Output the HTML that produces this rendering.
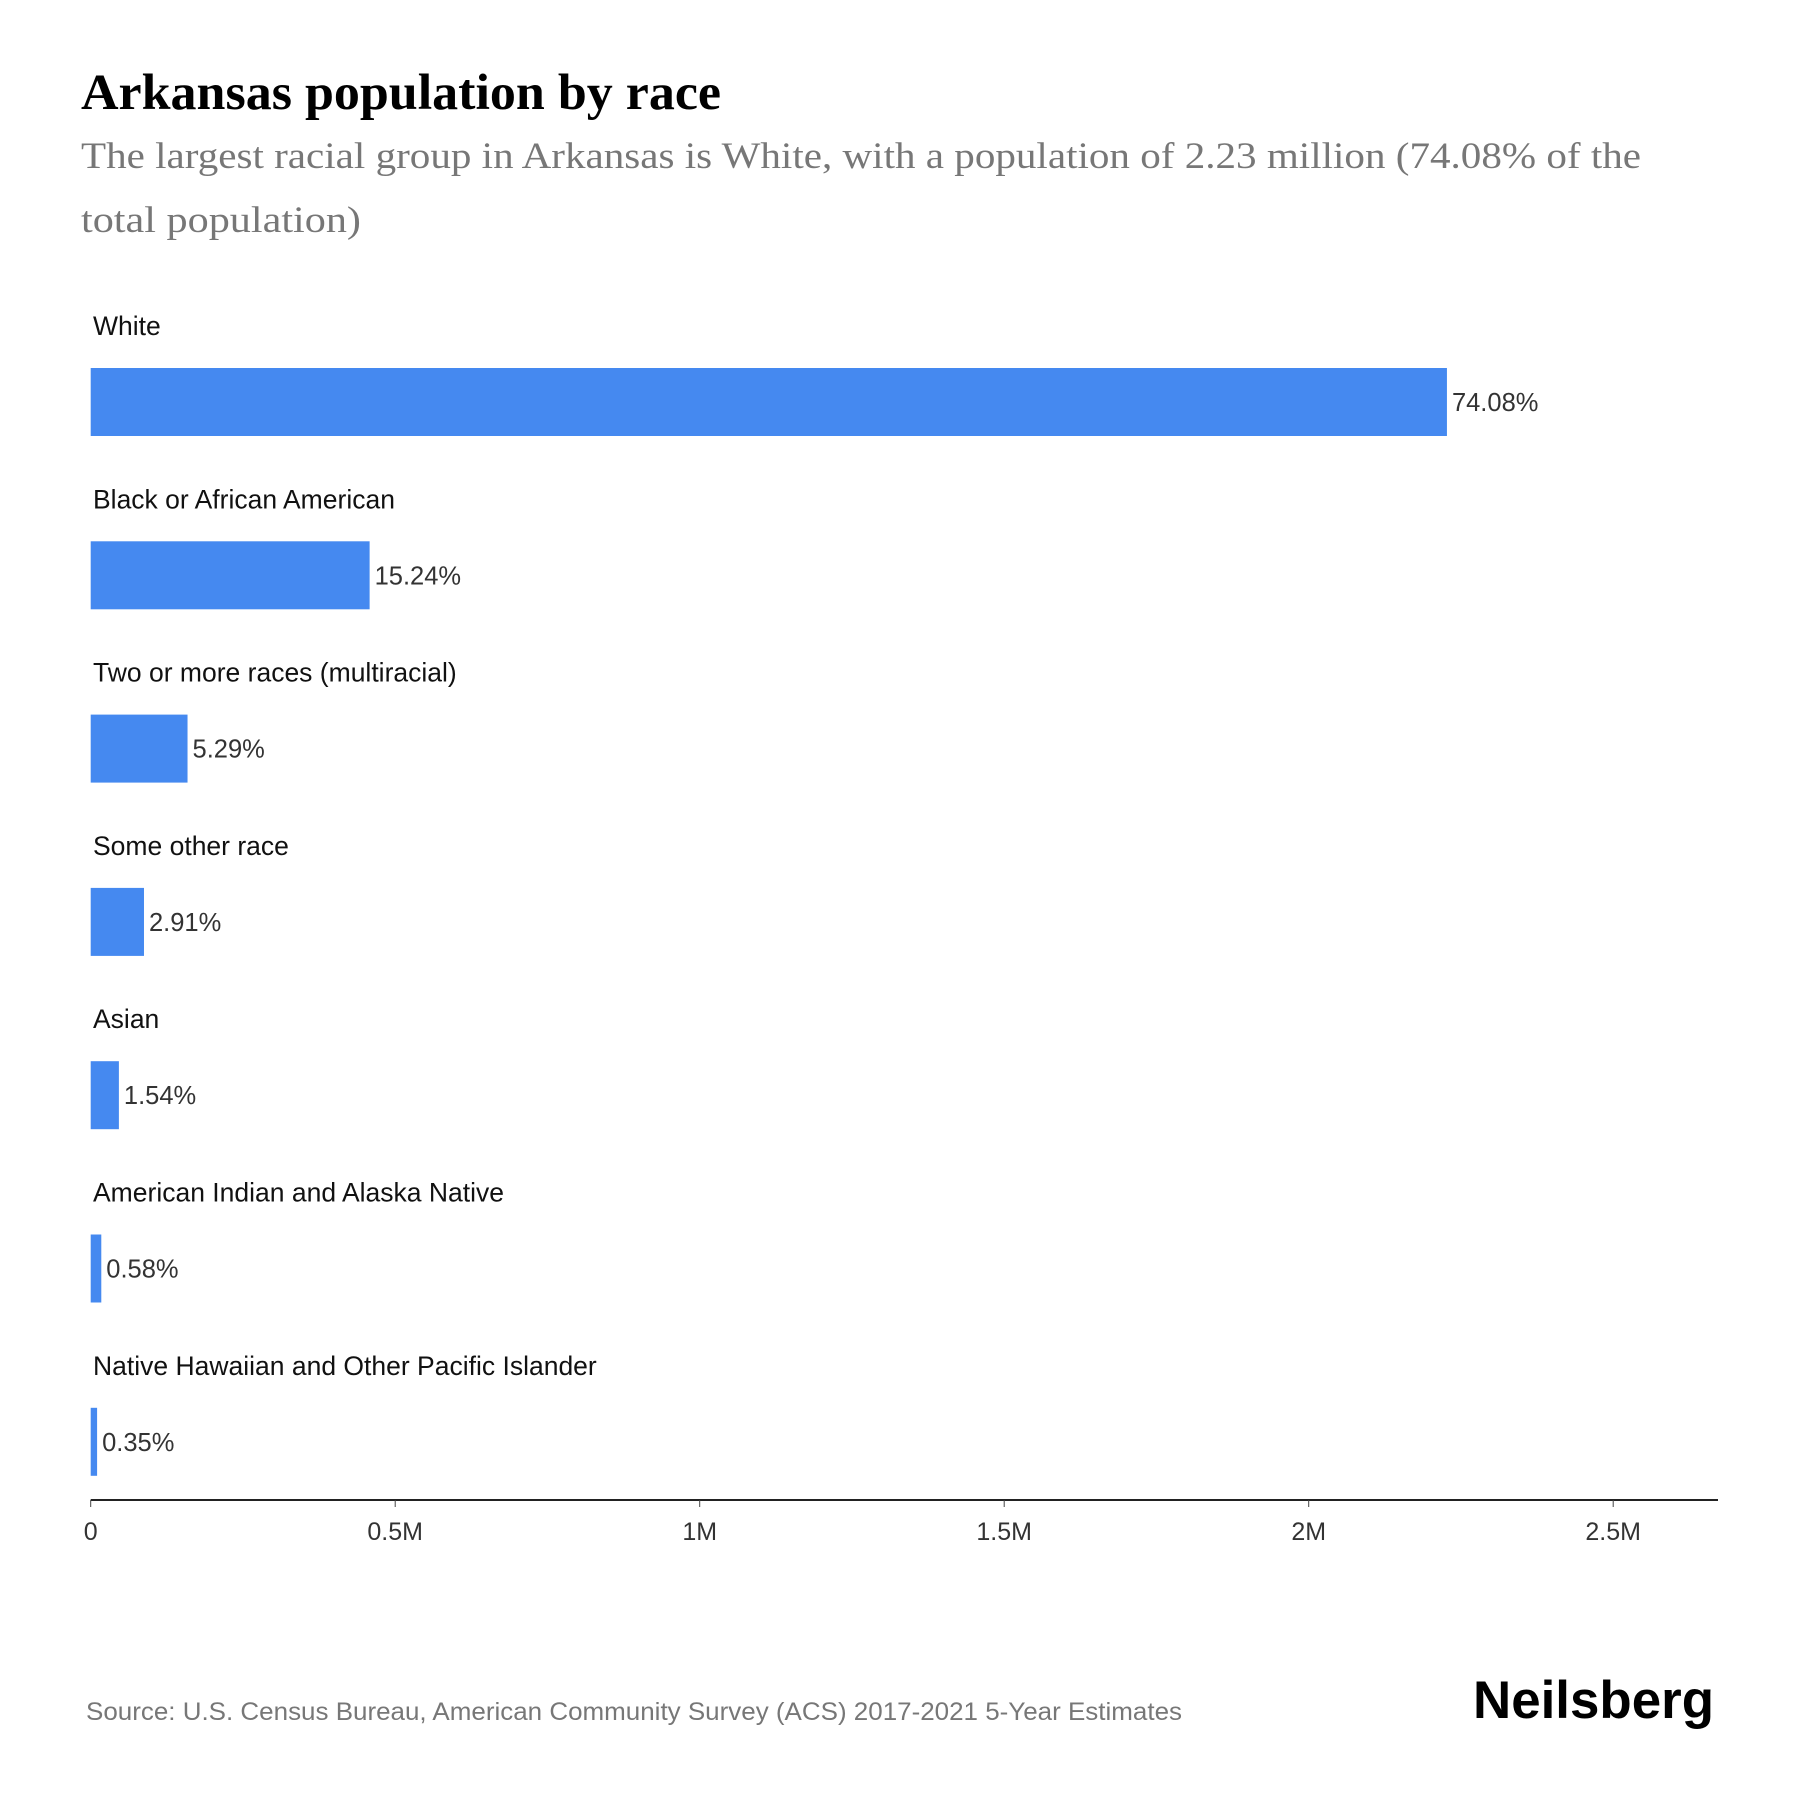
<!DOCTYPE html>
<html><head><meta charset="utf-8"><style>
html,body{margin:0;padding:0;background:#fff;}
svg{display:block;}
</style></head><body>
<svg id="chart" width="1800" height="1800" xmlns="http://www.w3.org/2000/svg">
<text x="81" y="109" textLength="640" lengthAdjust="spacingAndGlyphs" font-family="Liberation Serif, serif" font-weight="bold" font-size="51" fill="#000">Arkansas population by race</text>
<text x="81" y="168" textLength="1560" lengthAdjust="spacingAndGlyphs" font-family="Liberation Serif, serif" font-size="37" fill="#777">The largest racial group in Arkansas is White, with a population of 2.23 million (74.08% of the</text>
<text x="81" y="232" textLength="280" lengthAdjust="spacingAndGlyphs" font-family="Liberation Serif, serif" font-size="37" fill="#777">total population)</text>
<g id="bars"></g>
<g id="axis"></g>
<text x="86" y="1720" textLength="1096" lengthAdjust="spacingAndGlyphs" font-family="Liberation Sans, sans-serif" font-size="25" fill="#777">Source: U.S. Census Bureau, American Community Survey (ACS) 2017-2021 5-Year Estimates</text>
<text x="1473" y="1718" textLength="241" lengthAdjust="spacingAndGlyphs" font-family="Liberation Sans, sans-serif" font-weight="bold" font-size="53" fill="#000">Neilsberg</text>
</svg>
<script>
const categories = ["White","Black or African American","Two or more races (multiracial)","Some other race","Asian","American Indian and Alaska Native","Native Hawaiian and Other Pacific Islander"];
const values = [2.227, 0.458, 0.159, 0.0875, 0.0463, 0.0174, 0.0105];
const pctLabels = ["74.08%","15.24%","5.29%","2.91%","1.54%","0.58%","0.35%"];
const ticks = [0, 0.5, 1, 1.5, 2, 2.5];
const tickLabels = ["0","0.5M","1M","1.5M","2M","2.5M"];

const NS = "http://www.w3.org/2000/svg";
const x0 = 90.7, pxPerUnit = 609;
const xs = v => x0 + v * pxPerUnit;
const rowTop = i => 368 + i * 173.3;
const barH = 68;
const bars = document.getElementById('bars');
const axis = document.getElementById('axis');
function mk(tag, attrs, parent, text){
  const el = document.createElementNS(NS, tag);
  for (const k in attrs) el.setAttribute(k, attrs[k]);
  if (text !== undefined) el.textContent = text;
  parent.appendChild(el);
  return el;
}
categories.forEach((c, i) => {
  const y = rowTop(i);
  const lab = mk('text', {x: 93, y: y - 33, 'font-family': 'Liberation Sans, sans-serif', 'font-size': 26.5, fill: '#111'}, bars, c);
  
  
  const r = mk('rect', {x: xs(0), y: y, width: Math.max(1, xs(values[i]) - xs(0)), height: barH, fill: '#4589f0'}, bars);
  
  
  const v = mk('text', {x: xs(values[i]) + 5, y: y + barH/2 + 9, 'font-family': 'Liberation Sans, sans-serif', 'font-size': 25.5, fill: '#333'}, bars, pctLabels[i]);
  
  
});
const al = mk('line', {x1: x0, x2: 1718, y1: 1500, y2: 1500, stroke: '#222', 'stroke-width': 2}, axis);


ticks.forEach((t, i) => {
  const tk = mk('line', {x1: xs(t), x2: xs(t), y1: 1500, y2: 1507, stroke: '#444', 'stroke-width': 1}, axis);
  
  
  const tl = mk('text', {x: xs(t), y: 1540, 'text-anchor': 'middle', 'font-family': 'Liberation Sans, sans-serif', 'font-size': 25, fill: '#333'}, axis, tickLabels[i]);
  
  
});
</script>
</body></html>
